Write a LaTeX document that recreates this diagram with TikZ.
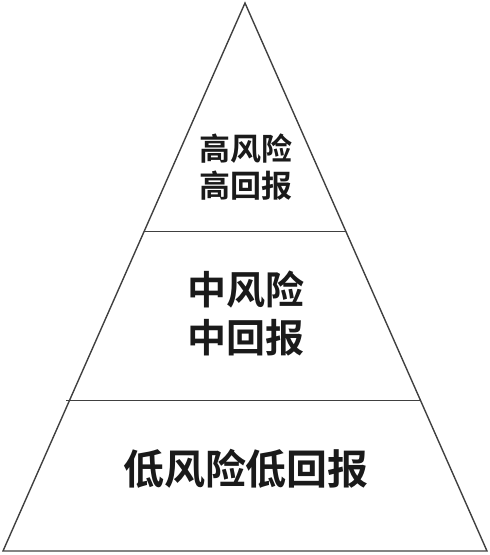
\documentclass[tikz,border=0pt]{standalone}
\usepackage{fontspec}
\newfontfamily\cjk{Noto Sans CJK SC Bold}
\definecolor{edge}{HTML}{404040}
\definecolor{ink}{HTML}{1A1A1A}
\tikzset{
  edgeline/.style={draw=edge, line width=1.4pt},
  lbl/.style={text=ink, font=\cjk, align=center, inner sep=0pt}
}
\begin{document}
\begin{tikzpicture}[x=1pt,y=-1pt]
\useasboundingbox (0,0) rectangle (490,555);
\coordinate (apex) at (245,3);
\coordinate (bl) at (3,551);
\coordinate (br) at (487,551);
\coordinate (l1) at (144,231);
\coordinate (r1) at (346,231);
\coordinate (l2) at (66,400);
\coordinate (r2) at (421,400);
\draw[edgeline, line join=miter] (apex) -- (br) -- (bl) -- cycle;
\draw[draw=edge, line width=1pt] (l1) -- (r1);
\draw[draw=edge, line width=1pt] (l2) -- (r2);
\node[lbl, font=\cjk\fontsize{31}{37}\selectfont] (top) at (246,167) {高风险\\高回报};
\node[lbl, font=\cjk\fontsize{39}{48}\selectfont] (mid) at (246,314) {中风险\\中回报};
\node[lbl, font=\cjk\fontsize{41}{48}\selectfont] (bot) at (246,469) {低风险低回报};
\end{tikzpicture}
\end{document}
